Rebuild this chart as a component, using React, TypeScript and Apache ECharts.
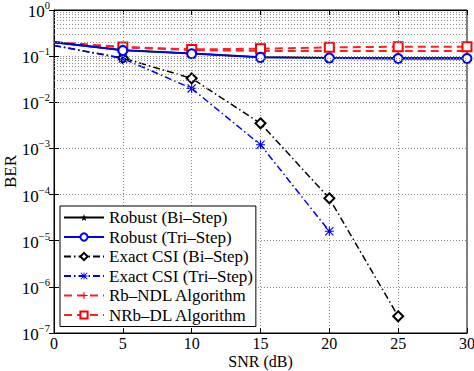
import React, { useEffect, useRef } from "react";
import * as echarts from "echarts";

const snr = [0, 5, 10, 15, 20, 25, 30];
const robustBi = [0.2, 0.135, 0.115, 0.095, 0.092, 0.09, 0.09];
const robustTri = [0.2, 0.133, 0.113, 0.094, 0.091, 0.089, 0.089];
const exactBi = [0.17, 0.091, 0.033, 0.0035, 8.3e-5, 2.3e-7];
const exactTri = [0.17, 0.089, 0.02, 0.0012, 1.6e-5];
const rbNdl = [0.2, 0.155, 0.135, 0.13, 0.13, 0.13, 0.13];
const nrbDl = [0.2, 0.158, 0.14, 0.145, 0.155, 0.16, 0.16];
const names = [
  "Robust (Bi\u2013Step)",
  "Robust (Tri\u2013Step)",
  "Exact CSI (Bi\u2013Step)",
  "Exact CSI (Tri\u2013Step)",
  "Rb\u2013NDL Algorithm",
  "NRb\u2013DL Algorithm",
];
const minorGrid: number[] = [];
for (let e = -7; e < 0; e++) for (let m = 2; m <= 9; m++) minorGrid.push(m * Math.pow(10, e));

const STAR = "path://M5,0 L6.18,3.45 L9.76,3.45 L6.9,5.59 L7.94,9.05 L5,7 L2.06,9.05 L3.1,5.59 L0.24,3.45 L3.82,3.45 Z";
const PLUS = "path://M4.3,0 H5.7 V4.3 H10 V5.7 H5.7 V10 H4.3 V5.7 H0 V4.3 H4.3 Z";
const ASTER = "path://M4.4,0 H5.6 V4.4 H10 V5.6 H5.6 V10 H4.4 V5.6 H0 V4.4 H4.4 Z M0,0.9 L0.9,0 L10,9.1 L9.1,10 Z M9.1,0 L10,0.9 L0.9,10 L0,9.1 Z";

const FONT = "Liberation Serif";
const FS = 17;
const GRIDDOT = { type: [1, 2], color: "#888", width: 1 };

function pts(vals: number[]) {
  return vals.map((v, i) =>
    i === 0 ? { value: [snr[i], v], symbol: "none" } : { value: [snr[i], v] }
  );
}

export default function App() {
  const ref = useRef<HTMLDivElement>(null);
  useEffect(() => {
    const chart = echarts.init(ref.current!, null, { renderer: "svg" });
    const sup = (v: number) => {
      const e = Math.round(Math.log10(v));
      return `{b|10}{s|${e < 0 ? "\u2212" + -e : e}}`;
    };
    const xBase = { type: "value", min: 0, max: 30, interval: 5 };
    const yBase = { type: "log", logBase: 10, min: 1e-7, max: 1, interval: 1 };
    chart.setOption({
      animation: false,
      grid: {
        left: 54,
        right: 7,
        top: 10,
        bottom: 38,
        show: true,
        borderColor: "#000",
        borderWidth: 1,
        backgroundColor: "#fff",
        outerBoundsMode: "none",
        containLabel: false,
      },
      legend: {
        data: names,
        orient: "vertical",
        left: 60,
        top: 206,
        itemWidth: 40,
        itemHeight: 9,
        itemGap: 2.5,
        padding: [3, 3, 3, 3],
        borderColor: "#000",
        borderWidth: 1,
        backgroundColor: "#fff",
        textStyle: { fontFamily: FONT, fontSize: FS, color: "#000" },
      },
      xAxis: [
        {
          ...xBase,
          position: "bottom",
          name: "SNR (dB)",
          nameLocation: "middle",
          nameGap: 21,
          nameMoveOverlap: false,
          nameTextStyle: { fontFamily: FONT, fontSize: 16, color: "#000", lineHeight: 14 },
          axisLine: { lineStyle: { color: "#000" } },
          axisTick: { inside: true, length: 5, lineStyle: { color: "#000" } },
          axisLabel: { fontFamily: FONT, fontSize: 16, color: "#000", margin: 3, lineHeight: 14 },
          splitLine: { show: true, lineStyle: GRIDDOT },
        },
        {
          ...xBase,
          position: "top",
          axisLine: { lineStyle: { color: "#000" } },
          axisTick: { inside: true, length: 5, lineStyle: { color: "#000" } },
          axisLabel: { show: false },
          splitLine: { show: false },
        },
      ],
      yAxis: [
        {
          ...yBase,
          position: "left",
          name: "BER",
          nameLocation: "middle",
          nameGap: 35,
          nameMoveOverlap: false,
          nameTextStyle: { fontFamily: FONT, fontSize: FS, color: "#000", lineHeight: 18 },
          axisLine: { lineStyle: { color: "#000" } },
          axisTick: { inside: true, length: 5, lineStyle: { color: "#000" } },
          axisLabel: {
            formatter: sup,
            margin: 4,
            rich: {
              b: { fontFamily: FONT, fontSize: FS, color: "#000", lineHeight: 20, verticalAlign: "bottom" },
              s: { fontFamily: FONT, fontSize: 10.5, color: "#000", lineHeight: 10, verticalAlign: "top" },
            },
          },
          splitLine: { show: true, lineStyle: GRIDDOT },
        },
        {
          ...yBase,
          position: "right",
          axisLine: { lineStyle: { color: "#000" } },
          axisTick: { inside: true, length: 5, lineStyle: { color: "#000" } },
          axisLabel: { show: false },
          splitLine: { show: false },
        },
      ],
      series: [
        {
          name: "minor",
          type: "line",
          data: [],
          z: 1,
          silent: true,
          markLine: {
            silent: true,
            symbol: "none",
            label: { show: false },
            lineStyle: GRIDDOT,
            data: minorGrid.map((v) => ({ yAxis: v })),
          },
        },
        {
          name: names[0],
          type: "line",
          data: pts(robustBi),
          symbol: STAR,
          symbolSize: 11,
          color: "#000",
          lineStyle: { color: "#000", width: 1.8 },
          itemStyle: { color: "#000" },
          z: 3,
        },
        {
          name: names[1],
          type: "line",
          data: pts(robustTri),
          symbol: "emptyCircle",
          symbolSize: 9,
          color: "#0000ff",
          lineStyle: { color: "#0000ff", width: 1.8 },
          itemStyle: { color: "#0000ff", borderColor: "#0000ff", borderWidth: 1.8 },
          z: 4,
        },
        {
          name: names[2],
          type: "line",
          data: pts(exactBi),
          symbol: "emptyDiamond",
          symbolSize: 10,
          color: "#000",
          lineStyle: { color: "#000", width: 1.5, type: [7, 3, 1.5, 3] },
          itemStyle: { color: "#000", borderColor: "#000", borderWidth: 1.5 },
          z: 3,
        },
        {
          name: names[3],
          type: "line",
          data: pts(exactTri),
          symbol: ASTER,
          symbolSize: 9,
          color: "#0000ff",
          lineStyle: { color: "#0000ff", width: 1.5, type: [7, 3, 1.5, 3] },
          itemStyle: { color: "#0000ff" },
          z: 3,
        },
        {
          name: names[4],
          type: "line",
          data: pts(rbNdl),
          symbol: PLUS,
          symbolSize: 10,
          color: "#ff0000",
          lineStyle: { color: "#ff2020", width: 2, type: [8, 5] },
          itemStyle: { color: "#ff0000" },
          z: 2,
        },
        {
          name: names[5],
          type: "line",
          data: pts(nrbDl),
          symbol: "emptyRect",
          symbolSize: 9,
          color: "#ff0000",
          lineStyle: { color: "#ff2020", width: 2, type: [8, 5] },
          itemStyle: { color: "#ff0000", borderColor: "#ff0000", borderWidth: 1.5 },
          z: 2,
        },
      ],
    });
    return () => chart.dispose();
  }, []);
  return (
    <div
      ref={ref}
      style={{ position: "fixed", left: 0, top: 0, width: 474, height: 371, background: "#fff" }}
    />
  );
}
